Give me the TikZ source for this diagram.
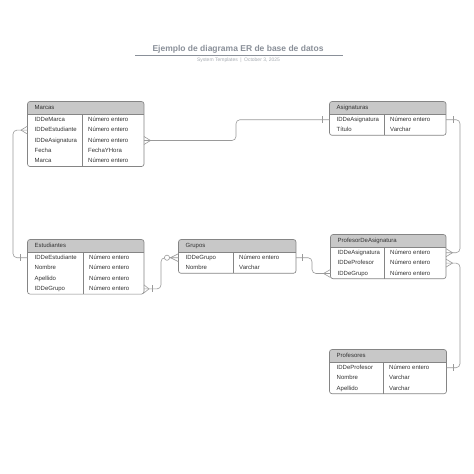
\documentclass[tikz,border=0pt]{standalone}
\usepackage{fontspec}
\setmainfont{Liberation Sans}
\usetikzlibrary{calc}
\definecolor{txtc}{HTML}{333333}
\definecolor{linec}{HTML}{9A9A9A}
\definecolor{hdrc}{HTML}{C8C8C8}
\definecolor{titlec}{HTML}{8A9099}
\definecolor{subc}{HTML}{A8ADB3}
\definecolor{framec}{HTML}{858585}
\tikzset{
 frame/.style={draw=none, fill=white, inner sep=0pt, outer sep=0pt, rectangle},
 rowc/.style={inner sep=0pt, outer sep=0pt, draw=none},
 txt/.style={font=\fontsize{6}{7}\selectfont, text=txtc, inner sep=0pt, text height=4.4pt, text depth=1.2pt},
 conn/.style={draw=linec, line width=0.6pt},
 bord/.style={draw=framec, line width=0.65pt}
}
\newcommand{\ERtable}[8]{%
 \pgfmathsetmacro{\tabH}{13+#6*10.4}%
 \pgfmathsetmacro{\tabW}{#3-#2}%
 \node[frame, minimum width=\tabW pt, minimum height=\tabH pt, anchor=north west] (#1) at (#2,#4) {};
 \begin{scope}
  \clip[rounded corners=2.5pt] (#1.north west) rectangle (#1.south east);
  \fill[hdrc] (#1.north west) rectangle ($(#1.north east)+(0,13)$);
 \end{scope}
 \draw[bord, rounded corners=2.5pt] (#1.north west) rectangle (#1.south east);
 \draw[bord] ($(#1.north west)+(0,13)$) -- ($(#1.north east)+(0,13)$);
 \draw[bord] (#5,{#4+13}) -- (#5,{#4+\tabH});
 \node[txt, anchor=west] (#1-h) at ({#2+7},{#4+6.5}) {#7};
 \foreach[count=\i] \f/\t in {#8} {
   \node[rowc, minimum width=\tabW pt, minimum height=10.4pt, anchor=north west] (#1-\i) at (#2,{#4+13+(\i-1)*10.4}) {};
   \node[txt, anchor=west] (#1-\i-f) at ({#2+7},{#4+13+(\i-0.5)*10.4}) {\f};
   \node[txt, anchor=west] (#1-\i-t) at ({#5+6},{#4+13+(\i-0.5)*10.4}) {\t};
 }
}
\newcommand{\crowfoot}[3]{\draw[conn] ($(#1)+(0,-4)$) -- ($(#1)+(#2*#3,0)$) -- ($(#1)+(0,4)$);}
\newcommand{\onebar}[3]{\draw[conn] ($(#1)+(#2*#3,-3.5)$) -- ($(#1)+(#2*#3,3.5)$);}
\newcommand{\zerocirc}[3]{\draw[conn, fill=white] ($(#1)+(#2*#3,0)$) circle (2.6pt);}
\begin{document}
\begin{tikzpicture}[x=1pt, y=-1pt]
\useasboundingbox[fill=white] (0,0) rectangle (474,474);
% title
\node[font=\bfseries\fontsize{8.5}{10}\selectfont, text=titlec, inner sep=0pt] (title) at (238,49.5) {Ejemplo de diagrama ER de base de datos};
\draw[draw=titlec, line width=0.6pt] (135,55.5) -- (343,55.5);
\node[font=\fontsize{5}{6}\selectfont, text=subc, inner sep=0pt] (subtitle) at (238.5,60.5) {System Templates\hspace{2.5pt}|\hspace{2.5pt}October 3, 2025};
% tables
\ERtable{marcas}{27.5}{144}{101.5}{82}{5}{Marcas}{IDDeMarca/Número entero, IDDeEstudiante/Número entero, IDDeAsignatura/Número entero, Fecha/FechaYHora, Marca/Número entero}
\ERtable{asig}{329.5}{446}{101.5}{384}{2}{Asignaturas}{IDDeAsignatura/Número entero, Título/Varchar}
\ERtable{estud}{27.5}{144}{239.5}{83}{4}{Estudiantes}{IDDeEstudiante/Número entero, Nombre/Número entero, Apellido/Número entero, IDDeGrupo/Número entero}
\ERtable{grupos}{178.5}{296}{239.5}{233}{2}{Grupos}{IDDeGrupo/Número entero, Nombre/Varchar}
\ERtable{pda}{330.5}{446}{234.5}{384}{3}{ProfesorDeAsignatura}{IDDeAsignatura/Número entero, IDDeProfesor/Número entero, IDDeGrupo/Número entero}
\ERtable{prof}{329.5}{446.5}{349.5}{383}{3}{Profesores}{IDDeProfesor/Número entero, Nombre/Varchar, Apellido/Varchar}
% connectors
\draw[conn, rounded corners=4pt] (marcas-2.west) -- ++(-14.5,0) |- (estud-1.west);
\crowfoot{marcas-2.west}{-1}{6.5}
\onebar{estud-1.west}{-1}{7.5}
\draw[conn, rounded corners=4pt] (marcas-3.east) -- ++(92,0) |- (asig-1.west);
\crowfoot{marcas-3.east}{1}{6.5}
\onebar{asig-1.west}{-1}{7.5}
\draw[conn, rounded corners=4pt] (asig-1.east) -- ++(14,0) |- (pda-1.east);
\onebar{asig-1.east}{1}{7}
\crowfoot{pda-1.east}{1}{6.5}
\draw[conn, rounded corners=4pt] (prof-1.east) -- ++(13.5,0) |- (pda-2.east);
\onebar{prof-1.east}{1}{7}
\crowfoot{pda-2.east}{1}{6.5}
\draw[conn, rounded corners=4pt] (estud-4.east) -- ++(17,0) |- (grupos-1.west);
\crowfoot{estud-4.east}{1}{5}
\onebar{estud-4.east}{1}{8}
\crowfoot{grupos-1.west}{-1}{8}
\zerocirc{grupos-1.west}{-1}{11.5}
\draw[conn, rounded corners=4pt] (grupos-1.east) -- ++(16,0) |- (pda-3.west);
\onebar{grupos-1.east}{1}{6.5}
\crowfoot{pda-3.west}{-1}{7}
\end{tikzpicture}
\end{document}
